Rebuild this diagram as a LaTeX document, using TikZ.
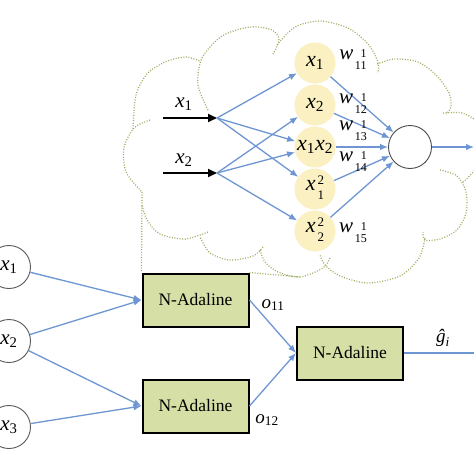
\documentclass[tikz,border=0pt]{standalone}
\usepackage{fontspec}
\usepackage{amsmath}
\setmainfont{Liberation Serif}
\usetikzlibrary{arrows.meta}
\definecolor{lineblue}{HTML}{6E96D2}
\definecolor{cloudgreen}{HTML}{9BAF62}
\definecolor{boxgreen}{HTML}{D6DFA6}
\definecolor{softyellow}{HTML}{FAF0C2}
\newcommand{\myvar}[2]{$\textit{#1}_{\text{#2}}$}
\newcommand{\mysq}[1]{\textit{x}\kern2pt\raisebox{-1.5pt}{\fontsize{13}{14.5}\selectfont\begin{tabular}{@{}l@{}}2\\#1\end{tabular}}}
\newcommand{\mywt}[1]{\textit{w}\kern1.5pt\raisebox{-5pt}{\fontsize{12}{11.5}\selectfont\begin{tabular}{@{}r@{}}1\\#1\end{tabular}}}
\begin{document}
\begin{tikzpicture}[x=1pt,y=-1pt,
  barrow/.style={draw=lineblue, line width=1.3pt, -{Latex[length=8pt,width=6.5pt]}},
  bline/.style={draw=lineblue, line width=1.3pt},
  karrow/.style={draw=black, line width=1.8pt, -{Triangle[length=9pt,width=8pt]}},
  ycirc/.style={circle, fill=softyellow, minimum size=41pt, inner sep=0pt, font=\fontsize{22}{24}\selectfont},
  incirc/.style={circle, draw=black!65, fill=white, line width=0.9pt, minimum size=43pt, inner sep=0pt, font=\fontsize{21}{24}\selectfont},
  adbox/.style={rectangle, draw=black, line width=2pt, fill=boxgreen, minimum width=106pt, minimum height=53pt, inner sep=0pt, font=\fontsize{17.5}{20}\selectfont},
  cloudline/.style={draw=cloudgreen, line width=1.2pt, dash pattern=on 1pt off 1.6pt},
  lab/.style={inner sep=0pt, font=\fontsize{21}{24}\selectfont},
  wlab/.style={inner sep=0pt, font=\fontsize{19}{21}\selectfont},
  wtlab/.style={inner sep=0pt, font=\fontsize{21}{22}\selectfont}
]
\useasboundingbox (0,0) rectangle (474,474);
\fill[white] (0,0) rectangle (474,474);

% cloud
\draw[cloudline] plot[smooth] coordinates {(150,120) (134,128) (124,148) (126,172) (142,192)};
\draw[cloudline] plot[smooth] coordinates {(133,129) (136,95) (147,74) (165,62) (185,57) (200,61)};
\draw[cloudline] plot[smooth] coordinates {(208,110) (198,85) (202,58) (222,36) (250,27) (272,30) (279,40) (273,54)};
\draw[cloudline] plot[smooth] coordinates {(277,45) (295,27) (320,21) (348,28) (368,44) (378,62) (378,73)};
\draw[cloudline] plot[smooth] coordinates {(377,64) (395,59) (418,62) (436,75) (449,93) (451,107) (446,114)};
\draw[cloudline] plot[smooth] coordinates {(443,113) (462,113) (476,122) (480,145) (476,168) (462,183)};
\draw[cloudline] plot[smooth] coordinates {(440,170) (457,176) (466,192) (466,213) (457,230) (440,239) (425,240) (423,232)};
\draw[cloudline] plot[smooth] coordinates {(425,238) (419,258) (400,276) (368,283) (340,276) (325,265) (320,255)};
\draw[cloudline] plot[smooth] coordinates {(330,258) (323,268) (300,277) (278,272) (265,262) (260,250)};
\draw[cloudline] plot[smooth] coordinates {(263,247) (253,256) (230,260) (210,253) (200,237)};
\draw[cloudline] plot[smooth] coordinates {(208,232) (185,239) (160,234) (147,220) (142,205)};

% inner neuron
\node[ycirc] (y1) at (315,63) {\myvar{x}{1}};
\node[ycirc] (y2) at (315,105) {\myvar{x}{2}};
\node[ycirc] (y3) at (315,147) {\myvar{x}{1}\myvar{x}{2}};
\node[ycirc] (y4) at (315,189) {\mysq{1}};
\node[ycirc] (y5) at (315,231) {\mysq{2}};
\node[circle, draw=black!70, fill=white, line width=0.9pt, minimum size=43pt, inner sep=0pt] (out) at (410,147) {};

\coordinate (a1) at (163,118);
\coordinate (a2) at (163,173);
\coordinate (s1) at (217,118);
\coordinate (s2) at (217,173);
\coordinate (e1) at (474,147);

\draw[karrow] (a1) -- (s1);
\draw[karrow] (a2) -- (s2);
\node[lab] (lx1) at (184,104) {\myvar{x}{1}};
\node[lab] (lx2) at (184,160) {\myvar{x}{2}};

\draw[barrow] (s1) -- (y1);
\draw[barrow] (s1) -- (y3);
\draw[barrow] (s1) -- (y4);
\draw[barrow] (s2) -- (y2);
\draw[barrow] (s2) -- (y3);
\draw[barrow] (s2) -- (y5);

\draw[barrow] (y1) -- (out);
\draw[barrow] (y2) -- (out);
\draw[barrow] (y3) -- (out);
\draw[barrow] (y4) -- (out);
\draw[barrow] (y5) -- (out);
\draw[barrow] (out) -- (e1);

\node[wtlab] (w1) at (353,61) {\mywt{11}};
\node[wtlab] (w2) at (353,105) {\mywt{12}};
\node[wtlab] (w3) at (353,132) {\mywt{13}};
\node[wtlab] (w4) at (353,163) {\mywt{14}};
\node[wtlab] (w5) at (353,234) {\mywt{15}};

% outer network
\node[incirc] (in1) at (9,267) {\myvar{x}{1}};
\node[incirc] (in2) at (9,341) {\myvar{x}{2}};
\node[incirc] (in3) at (9,427) {\myvar{x}{3}};

\node[adbox] (b1) at (195.5,300) {N-Adaline};
\node[adbox] (b2) at (195.5,406) {N-Adaline};
\node[adbox] (b3) at (350,353) {N-Adaline};

\coordinate (c1) at (142,192);
\coordinate (c2) at (300,277);
\draw[cloudline] (c1) -- (b1.north west);
\draw[cloudline] (b1.north east) -- (c2);

\draw[barrow] (in1) -- (b1.west);
\draw[barrow] (in2) -- (b1.west);
\draw[barrow] (in2) -- (b2.west);
\draw[barrow] (in3) -- (b2.west);
\draw[barrow] (b1.east) -- (b3.west);
\draw[barrow] (b2.east) -- (b3.west);

\coordinate (e2) at (474,353);
\draw[bline] (b3.east) -- (e2);

\node[wlab] (o1) at (273,305) {$\textit{o}_{\text{11}}$};
\node[wlab] (o2) at (267,420) {$\textit{o}_{\text{12}}$};
\node[wlab] (g1) at (443,338) {$\textit{ĝ}_{\textit{i}}$};
\end{tikzpicture}
\end{document}
